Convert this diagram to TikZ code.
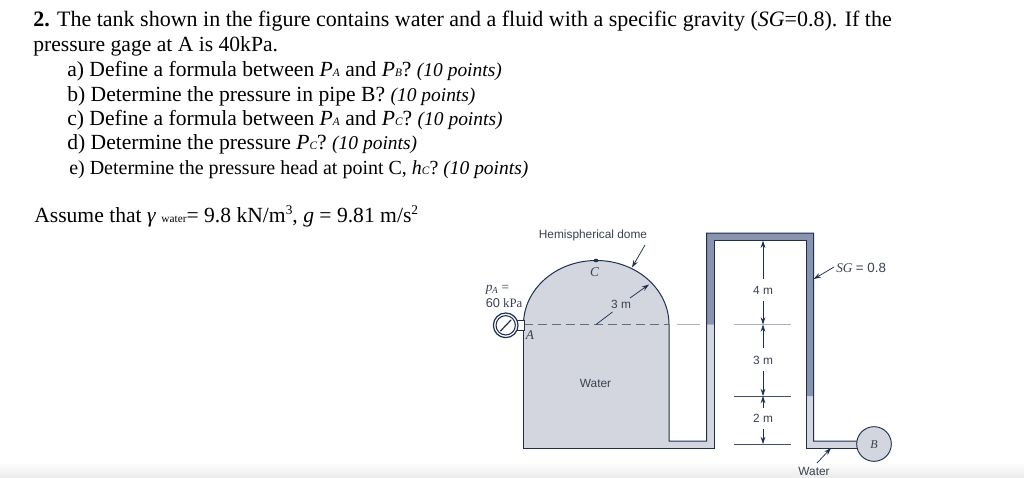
\documentclass[tikz,border=0pt]{standalone}
\usepackage{fontspec}
\setmainfont{Liberation Serif}
\newfontfamily\lbl{Liberation Sans}
\usetikzlibrary{arrows.meta,shadings}
\definecolor{wat}{HTML}{D3D6DF}
\definecolor{sg}{HTML}{8893AE}
\definecolor{ink}{HTML}{1E2F50}
\definecolor{txt}{HTML}{3A4150}
\definecolor{thin}{HTML}{A9B2C4}
\newcommand{\sub}[1]{{\fontsize{8.5}{8.5}\selectfont #1}}
\newcommand{\pwr}[1]{\raisebox{5.5pt}{\fontsize{10}{10}\selectfont #1}}
\newcommand{\pts}{{\fontsize{14.6}{16}\selectfont\itshape (10 points)}}
\tikzset{
  x=0.75pt,y=-0.75pt,
  q/.style={anchor=base west,inner sep=0,font=\fontsize{16.2}{18}\selectfont,text=black},
  lab/.style={inner sep=0,font=\lbl\fontsize{8.9}{10}\selectfont,text=txt},
  itl/.style={inner sep=0,font=\fontsize{10}{10}\selectfont\itshape,text=txt},
  wall/.style={draw=ink,line width=0.75pt},
  leader/.style={draw=ink,line width=0.55pt,-{Stealth[length=5.5pt,width=3.6pt]}},
  plain/.style={draw=ink,line width=0.55pt},
  level/.style={draw=thin,line width=0.6pt},
  dark/.style={draw=ink!85,line width=0.7pt},
}
\begin{document}
\begin{tikzpicture}
\useasboundingbox (0,0) rectangle (1024,478);
\fill[white] (0,0) rectangle (1024,478);
\shade[top color=white,bottom color=black!8] (0,462) rectangle (1024,478);
% question text
\node[q,font=\fontsize{16.5}{18}\selectfont] (t1) at (33,27) {\textbf{2.} The tank shown in the figure contains water and a fluid with a specific gravity (\textit{SG}=0.8). If the};
\node[q] (t2) at (33,52) {pressure gage at A is 40kPa.};
\node[q] (ta) at (67,76) {a) Define a formula between \textit{P\sub{A}} and \textit{P\sub{B}}? \pts};
\node[q] (tb) at (67,101) {b) Determine the pressure in pipe B? \pts};
\node[q] (tc) at (67,125) {c) Define a formula between \textit{P\sub{A}} and \textit{P\sub{C}}? \pts};
\node[q] (td) at (67,149) {d) Determine the pressure \textit{P\sub{C}}? \pts};
\node[q,font=\fontsize{15}{18}\selectfont] (te) at (69,174) {e) Determine the pressure head at point C, \textit{h\sub{C}}? \pts};
\node[q] (ta2) at (34,222) {Assume that \textit{γ} \sub{water}= 9.8 kN/m\pwr{3}, \textit{g} = 9.81 m/s\pwr{2}};
% fluids
\fill[wat] (523.5,448) -- (523.5,324.5) arc[start angle=180,end angle=360,x radius=72.75,y radius=64] -- (669,441) -- (706.7,441) -- (706.7,324.5) -- (714.3,324.5) -- (714.3,448) -- cycle;
\fill[wat] (806.3,396) -- (813.7,396) -- (813.7,441) -- (860,441) -- (860,448) -- (806.3,448) -- cycle;
\fill[sg] (706.7,324.5) -- (706.7,233) -- (813.7,233) -- (813.7,396) -- (806.3,396) -- (806.3,240.7) -- (714.3,240.7) -- (714.3,324.5) -- cycle;
% outlines
\draw[wall] (523.5,324.5) arc[start angle=180,end angle=360,x radius=72.75,y radius=64] -- (669,441) -- (706.7,441) -- (706.7,233) -- (813.7,233) -- (813.7,441) -- (858,441);
\draw[wall] (523.5,324.5) -- (523.5,448) -- (714.3,448) -- (714.3,240.7) -- (806.3,240.7) -- (806.3,448) -- (858,448);
\draw[wall,dash pattern=on 7pt off 3.5pt,draw=ink!70,line width=1pt] (523.5,324.5) -- (669,324.5);
\fill[ink] (596,260.5) ellipse[x radius=2.3,y radius=1.8];
% gauge
\node[draw=ink,line width=0.6pt,fill=white,minimum width=5.25pt,minimum height=7pt,inner sep=0] (stub) at (520.5,325.3) {};
\node[circle,draw=ink,line width=0.9pt,fill=white,minimum size=18.5pt,inner sep=0] (gauge) at (505.7,325.3) {};
\node[circle,draw=ink,line width=0.8pt,fill=white,minimum size=14.5pt,inner sep=0] (gaugein) at (505.7,325.3) {};
\draw[ink,line width=0.9pt,line cap=round] (500.5,331) -- (511,320);
% pipe B
\node[circle,draw=ink,line width=0.7pt,fill=wat,minimum size=26pt,inner sep=0] (B) at (874,444) {};
\node[itl,font=\fontsize{9}{10}\selectfont\itshape] (Bl) at (874,445) {B};
% levels
\coordinate (l1a) at (677,324.5); \coordinate (l1b) at (700,324.5);
\draw[level] (l1a) -- (l1b);
\coordinate (l2a) at (734,324.5); \coordinate (l2b) at (791,324.5);
\draw[level] (l2a) -- (l2b);
\coordinate (l3a) at (734,396); \coordinate (l3b) at (791,396);
\draw[dark] (l3a) -- (l3b);
\coordinate (l4a) at (734,444); \coordinate (l4b) at (791,444);
\draw[dark] (l4a) -- (l4b);
% labels
\node[lab] (hd) at (593,235) {Hemispherical dome};
\node[itl] (Cl) at (594.5,272) {C};
\node[itl,anchor=west] (pa1) at (485.5,290) {p\textsubscript{\kern-0.3pt A} \textup{=}};
\node[anchor=west,inner sep=0,text=txt,font=\fontsize{9.6}{10}\selectfont] (pa2) at (485.5,303.5) {{\lbl 60} kPa};
\node[itl] (Al) at (530,335.5) {A};
\node[lab] (m3) at (621,304.5) {3 m};
\node[lab] (wl) at (595.5,383) {Water};
\node[lab] (m4) at (763,290) {4 m};
\node[lab] (m3b) at (763,360) {3 m};
\node[lab] (m2) at (763,418) {2 m};
\node[itl,anchor=west] (sgl) at (836,267.5) {SG {\lbl\upshape = 0.8}};
\node[lab] (wb) at (814,471) {Water};
% dimension arrows
\coordinate (top) at (763,240.7);
\coordinate (d1) at (763,324.5);
\coordinate (d2) at (763,396);
\coordinate (d3) at (763,444);
\draw[leader] (m4.north) ++(0,-7) -- (top);
\draw[leader] (m4.south) ++(0,7) -- (d1);
\draw[leader] (m3b.north) ++(0,-8) -- (d1);
\draw[leader] (m3b.south) ++(0,7) -- (d2);
\draw[leader] (m2.north) ++(0,-6) -- (d2);
\draw[leader] (m2.south) ++(0,7) -- (d3);
% leaders
\coordinate (hdA) at (645,245); \coordinate (hdB) at (632,267.5);
\draw[leader] (hdA) -- (hdB);
\coordinate (r1) at (630,298); \coordinate (r2) at (649,284.5);
\draw[leader] (r1) -- (r2);
\coordinate (r3) at (612.5,312); \coordinate (r4) at (596,324.5);
\draw[plain] (r3) -- (r4);
\coordinate (s1) at (834,267); \coordinate (s2) at (813.7,279);
\draw[leader] (s1) -- (s2);
\coordinate (w1) at (817,463); \coordinate (w2) at (831,448);
\draw[leader] (w1) -- (w2);
\end{tikzpicture}
\end{document}
